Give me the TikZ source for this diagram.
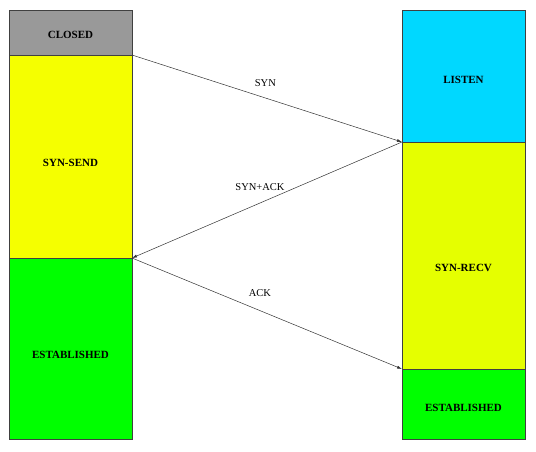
\documentclass[tikz,border=0pt]{standalone}
\usepackage{fontspec}
\setmainfont{Liberation Serif}
\usetikzlibrary{positioning,arrows.meta}

\definecolor{closedgray}{HTML}{999999}
\definecolor{sendyellow}{HTML}{F5FF00}
\definecolor{recvyellow}{HTML}{E5FF00}
\definecolor{listencyan}{HTML}{00D8FF}
\definecolor{estgreen}{HTML}{00FF00}

\begin{document}
\begin{tikzpicture}[x=1pt, y=-1pt,
    state/.style = {shape=rectangle, draw=black!75, line width=0.6pt,
      minimum width=123pt, inner sep=0pt, outer sep=0pt, text depth=0pt,
      font=\fontsize{11}{13}\selectfont\bfseries},
    msg/.style = {draw=black!80, line width=0.5pt, -{Latex[length=5pt,width=3pt]}},
    msglabel/.style = {inner sep=1pt, font=\fontsize{10.5}{12}\selectfont}]
  \useasboundingbox (0,0) rectangle (536,451);
  % client side
  \node[state, fill=closedgray, minimum height=45pt, text height=12pt, anchor=north west] (closed) at (9,10) {CLOSED};
  \node[state, fill=sendyellow, minimum height=203pt, text height=20pt, below=0pt of closed] (synsend) {SYN-SEND};
  \node[state, fill=estgreen, minimum height=181pt, text height=20pt, below=0pt of synsend] (estclient) {ESTABLISHED};
  % server side
  \node[state, fill=listencyan, minimum height=132pt, text height=15pt, anchor=north west] (listen) at (402,10) {LISTEN};
  \node[state, fill=recvyellow, minimum height=227pt, text height=32pt, below=0pt of listen] (synrecv) {SYN-RECV};
  \node[state, fill=estgreen, minimum height=70pt, text height=15pt, below=0pt of synrecv] (estserver) {ESTABLISHED};
  % handshake
  \draw[msg] (closed.south east) -- node[msglabel, pos=0.494, above=10pt] {SYN} (listen.south west);
  \draw[msg] (listen.south west) -- node[msglabel, pos=0.526, above=11.5pt] {SYN+ACK} (synsend.south east);
  \draw[msg] (synsend.south east) -- node[msglabel, pos=0.474, above=13pt] {ACK} (synrecv.south west);
\end{tikzpicture}
\end{document}
